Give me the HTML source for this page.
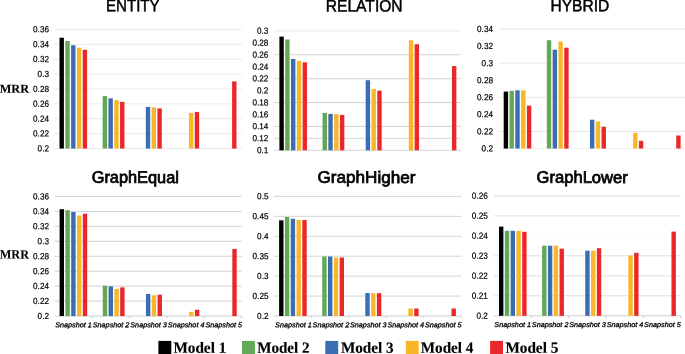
<!DOCTYPE html>
<html><head><meta charset="utf-8"><title>MRR charts</title>
<style>html,body{margin:0;padding:0;background:#fff}svg{display:block}</style></head>
<body>
<svg text-rendering="geometricPrecision" width="685" height="354" viewBox="0 0 685 354">
<rect width="685" height="354" fill="#fff"/>
<line x1="54.60" x2="242.10" y1="29.40" y2="29.40" stroke="#e4e4e4" stroke-width="0.8" stroke-opacity="1"/>
<text transform="translate(49.00,32.35) rotate(0.1) scale(0.93,1)" text-anchor="end" font-size="8.8" font-family="Liberation Sans, Arial, sans-serif" fill="#000" stroke="#000" stroke-width="0.2">0.36</text>
<line x1="54.60" x2="242.10" y1="44.29" y2="44.29" stroke="#e4e4e4" stroke-width="0.8" stroke-opacity="1"/>
<text transform="translate(49.00,47.24) rotate(0.1) scale(0.93,1)" text-anchor="end" font-size="8.8" font-family="Liberation Sans, Arial, sans-serif" fill="#000" stroke="#000" stroke-width="0.2">0.34</text>
<line x1="54.60" x2="242.10" y1="59.19" y2="59.19" stroke="#e4e4e4" stroke-width="0.8" stroke-opacity="1"/>
<text transform="translate(49.00,62.14) rotate(0.1) scale(0.93,1)" text-anchor="end" font-size="8.8" font-family="Liberation Sans, Arial, sans-serif" fill="#000" stroke="#000" stroke-width="0.2">0.32</text>
<line x1="54.60" x2="242.10" y1="74.08" y2="74.08" stroke="#e4e4e4" stroke-width="0.8" stroke-opacity="1"/>
<text transform="translate(49.00,77.03) rotate(0.1) scale(0.93,1)" text-anchor="end" font-size="8.8" font-family="Liberation Sans, Arial, sans-serif" fill="#000" stroke="#000" stroke-width="0.2">0.3</text>
<line x1="54.60" x2="242.10" y1="88.97" y2="88.97" stroke="#e4e4e4" stroke-width="0.8" stroke-opacity="1"/>
<text transform="translate(49.00,91.92) rotate(0.1) scale(0.93,1)" text-anchor="end" font-size="8.8" font-family="Liberation Sans, Arial, sans-serif" fill="#000" stroke="#000" stroke-width="0.2">0.28</text>
<line x1="54.60" x2="242.10" y1="103.87" y2="103.87" stroke="#e4e4e4" stroke-width="0.8" stroke-opacity="1"/>
<text transform="translate(49.00,106.82) rotate(0.1) scale(0.93,1)" text-anchor="end" font-size="8.8" font-family="Liberation Sans, Arial, sans-serif" fill="#000" stroke="#000" stroke-width="0.2">0.26</text>
<line x1="54.60" x2="242.10" y1="118.76" y2="118.76" stroke="#e4e4e4" stroke-width="0.8" stroke-opacity="1"/>
<text transform="translate(49.00,121.71) rotate(0.1) scale(0.93,1)" text-anchor="end" font-size="8.8" font-family="Liberation Sans, Arial, sans-serif" fill="#000" stroke="#000" stroke-width="0.2">0.24</text>
<line x1="54.60" x2="242.10" y1="133.66" y2="133.66" stroke="#e4e4e4" stroke-width="0.8" stroke-opacity="1"/>
<text transform="translate(49.00,136.61) rotate(0.1) scale(0.93,1)" text-anchor="end" font-size="8.8" font-family="Liberation Sans, Arial, sans-serif" fill="#000" stroke="#000" stroke-width="0.2">0.22</text>
<line x1="54.60" x2="242.10" y1="148.55" y2="148.55" stroke="#e4e4e4" stroke-width="0.8" stroke-opacity="1"/>
<text transform="translate(49.00,151.50) rotate(0.1) scale(0.93,1)" text-anchor="end" font-size="8.8" font-family="Liberation Sans, Arial, sans-serif" fill="#000" stroke="#000" stroke-width="0.2">0.2</text>
<rect x="59.50" y="37.70" width="4.4" height="110.85" fill="#000000"/>
<rect x="65.30" y="41.00" width="4.4" height="107.55" fill="#62a855"/>
<rect x="71.10" y="45.20" width="4.4" height="103.35" fill="#3b6db3"/>
<rect x="76.90" y="47.70" width="4.4" height="100.85" fill="#f9b727"/>
<rect x="82.70" y="49.70" width="4.4" height="98.85" fill="#e9282c"/>
<rect x="102.65" y="96.10" width="4.4" height="52.45" fill="#62a855"/>
<rect x="108.45" y="98.30" width="4.4" height="50.25" fill="#3b6db3"/>
<rect x="114.25" y="100.10" width="4.4" height="48.45" fill="#f9b727"/>
<rect x="120.05" y="101.90" width="4.4" height="46.65" fill="#e9282c"/>
<rect x="145.80" y="106.90" width="4.4" height="41.65" fill="#3b6db3"/>
<rect x="151.60" y="107.40" width="4.4" height="41.15" fill="#f9b727"/>
<rect x="157.40" y="108.40" width="4.4" height="40.15" fill="#e9282c"/>
<rect x="188.95" y="112.90" width="4.4" height="35.65" fill="#f9b727"/>
<rect x="194.75" y="111.90" width="4.4" height="36.65" fill="#e9282c"/>
<rect x="232.10" y="81.40" width="4.4" height="67.15" fill="#e9282c"/>
<line x1="274.10" x2="460.80" y1="30.90" y2="30.90" stroke="#c6c6c6" stroke-width="0.8" stroke-opacity="0.55"/>
<text transform="translate(268.40,33.85) rotate(0.1) scale(0.93,1)" text-anchor="end" font-size="8.8" font-family="Liberation Sans, Arial, sans-serif" fill="#000" stroke="#000" stroke-width="0.2">0.3</text>
<text transform="translate(268.40,45.79) rotate(0.1) scale(0.93,1)" text-anchor="end" font-size="8.8" font-family="Liberation Sans, Arial, sans-serif" fill="#000" stroke="#000" stroke-width="0.2">0.28</text>
<line x1="274.10" x2="460.80" y1="54.78" y2="54.78" stroke="#c6c6c6" stroke-width="0.8" stroke-opacity="0.9"/>
<text transform="translate(268.40,57.73) rotate(0.1) scale(0.93,1)" text-anchor="end" font-size="8.8" font-family="Liberation Sans, Arial, sans-serif" fill="#000" stroke="#000" stroke-width="0.2">0.26</text>
<text transform="translate(268.40,69.67) rotate(0.1) scale(0.93,1)" text-anchor="end" font-size="8.8" font-family="Liberation Sans, Arial, sans-serif" fill="#000" stroke="#000" stroke-width="0.2">0.24</text>
<line x1="274.10" x2="460.80" y1="78.66" y2="78.66" stroke="#c6c6c6" stroke-width="0.8" stroke-opacity="0.9"/>
<text transform="translate(268.40,81.61) rotate(0.1) scale(0.93,1)" text-anchor="end" font-size="8.8" font-family="Liberation Sans, Arial, sans-serif" fill="#000" stroke="#000" stroke-width="0.2">0.22</text>
<text transform="translate(268.40,93.55) rotate(0.1) scale(0.93,1)" text-anchor="end" font-size="8.8" font-family="Liberation Sans, Arial, sans-serif" fill="#000" stroke="#000" stroke-width="0.2">0.2</text>
<line x1="274.10" x2="460.80" y1="102.54" y2="102.54" stroke="#c6c6c6" stroke-width="0.8" stroke-opacity="1.0"/>
<text transform="translate(268.40,105.49) rotate(0.1) scale(0.93,1)" text-anchor="end" font-size="8.8" font-family="Liberation Sans, Arial, sans-serif" fill="#000" stroke="#000" stroke-width="0.2">0.18</text>
<text transform="translate(268.40,117.43) rotate(0.1) scale(0.93,1)" text-anchor="end" font-size="8.8" font-family="Liberation Sans, Arial, sans-serif" fill="#000" stroke="#000" stroke-width="0.2">0.16</text>
<line x1="274.10" x2="460.80" y1="126.42" y2="126.42" stroke="#c6c6c6" stroke-width="0.8" stroke-opacity="1"/>
<text transform="translate(268.40,129.37) rotate(0.1) scale(0.93,1)" text-anchor="end" font-size="8.8" font-family="Liberation Sans, Arial, sans-serif" fill="#000" stroke="#000" stroke-width="0.2">0.14</text>
<line x1="274.10" x2="460.80" y1="138.36" y2="138.36" stroke="#c6c6c6" stroke-width="0.8" stroke-opacity="0.9"/>
<text transform="translate(268.40,141.31) rotate(0.1) scale(0.93,1)" text-anchor="end" font-size="8.8" font-family="Liberation Sans, Arial, sans-serif" fill="#000" stroke="#000" stroke-width="0.2">0.12</text>
<line x1="274.10" x2="460.80" y1="150.30" y2="150.30" stroke="#c6c6c6" stroke-width="0.8" stroke-opacity="0.9"/>
<text transform="translate(268.40,153.25) rotate(0.1) scale(0.93,1)" text-anchor="end" font-size="8.8" font-family="Liberation Sans, Arial, sans-serif" fill="#000" stroke="#000" stroke-width="0.2">0.1</text>
<rect x="279.40" y="36.60" width="4.4" height="113.70" fill="#000000"/>
<rect x="285.20" y="39.50" width="4.4" height="110.80" fill="#62a855"/>
<rect x="291.00" y="58.90" width="4.4" height="91.40" fill="#3b6db3"/>
<rect x="296.80" y="60.80" width="4.4" height="89.50" fill="#f9b727"/>
<rect x="302.60" y="62.30" width="4.4" height="88.00" fill="#e9282c"/>
<rect x="322.54" y="112.90" width="4.4" height="37.40" fill="#62a855"/>
<rect x="328.34" y="113.90" width="4.4" height="36.40" fill="#3b6db3"/>
<rect x="334.14" y="114.20" width="4.4" height="36.10" fill="#f9b727"/>
<rect x="339.94" y="114.90" width="4.4" height="35.40" fill="#e9282c"/>
<rect x="365.68" y="80.20" width="4.4" height="70.10" fill="#3b6db3"/>
<rect x="371.48" y="89.00" width="4.4" height="61.30" fill="#f9b727"/>
<rect x="377.28" y="90.60" width="4.4" height="59.70" fill="#e9282c"/>
<rect x="408.82" y="40.20" width="4.4" height="110.10" fill="#f9b727"/>
<rect x="414.62" y="44.20" width="4.4" height="106.10" fill="#e9282c"/>
<rect x="451.96" y="66.10" width="4.4" height="84.20" fill="#e9282c"/>
<line x1="498.90" x2="686.00" y1="29.10" y2="29.10" stroke="#e2e2e2" stroke-width="0.8" stroke-opacity="1"/>
<text transform="translate(493.00,32.05) rotate(0.1) scale(0.93,1)" text-anchor="end" font-size="8.8" font-family="Liberation Sans, Arial, sans-serif" fill="#000" stroke="#000" stroke-width="0.2">0.34</text>
<text transform="translate(493.00,49.11) rotate(0.1) scale(0.93,1)" text-anchor="end" font-size="8.8" font-family="Liberation Sans, Arial, sans-serif" fill="#000" stroke="#000" stroke-width="0.2">0.32</text>
<line x1="498.90" x2="686.00" y1="63.23" y2="63.23" stroke="#e2e2e2" stroke-width="0.8" stroke-opacity="1"/>
<text transform="translate(493.00,66.18) rotate(0.1) scale(0.93,1)" text-anchor="end" font-size="8.8" font-family="Liberation Sans, Arial, sans-serif" fill="#000" stroke="#000" stroke-width="0.2">0.3</text>
<text transform="translate(493.00,83.24) rotate(0.1) scale(0.93,1)" text-anchor="end" font-size="8.8" font-family="Liberation Sans, Arial, sans-serif" fill="#000" stroke="#000" stroke-width="0.2">0.28</text>
<line x1="498.90" x2="686.00" y1="97.36" y2="97.36" stroke="#e2e2e2" stroke-width="0.8" stroke-opacity="1"/>
<text transform="translate(493.00,100.31) rotate(0.1) scale(0.93,1)" text-anchor="end" font-size="8.8" font-family="Liberation Sans, Arial, sans-serif" fill="#000" stroke="#000" stroke-width="0.2">0.26</text>
<text transform="translate(493.00,117.37) rotate(0.1) scale(0.93,1)" text-anchor="end" font-size="8.8" font-family="Liberation Sans, Arial, sans-serif" fill="#000" stroke="#000" stroke-width="0.2">0.24</text>
<line x1="498.90" x2="686.00" y1="131.49" y2="131.49" stroke="#e2e2e2" stroke-width="0.8" stroke-opacity="1"/>
<text transform="translate(493.00,134.44) rotate(0.1) scale(0.93,1)" text-anchor="end" font-size="8.8" font-family="Liberation Sans, Arial, sans-serif" fill="#000" stroke="#000" stroke-width="0.2">0.22</text>
<line x1="498.90" x2="686.00" y1="148.55" y2="148.55" stroke="#e2e2e2" stroke-width="0.8" stroke-opacity="0.6"/>
<text transform="translate(493.00,151.50) rotate(0.1) scale(0.93,1)" text-anchor="end" font-size="8.8" font-family="Liberation Sans, Arial, sans-serif" fill="#000" stroke="#000" stroke-width="0.2">0.2</text>
<rect x="503.70" y="91.60" width="4.4" height="56.95" fill="#000000"/>
<rect x="509.50" y="90.80" width="4.4" height="57.75" fill="#62a855"/>
<rect x="515.30" y="90.30" width="4.4" height="58.25" fill="#3b6db3"/>
<rect x="521.10" y="90.30" width="4.4" height="58.25" fill="#f9b727"/>
<rect x="526.90" y="105.60" width="4.4" height="42.95" fill="#e9282c"/>
<rect x="546.83" y="40.20" width="4.4" height="108.35" fill="#62a855"/>
<rect x="552.63" y="49.70" width="4.4" height="98.85" fill="#3b6db3"/>
<rect x="558.43" y="41.50" width="4.4" height="107.05" fill="#f9b727"/>
<rect x="564.23" y="47.70" width="4.4" height="100.85" fill="#e9282c"/>
<rect x="589.96" y="119.70" width="4.4" height="28.85" fill="#3b6db3"/>
<rect x="595.76" y="121.50" width="4.4" height="27.05" fill="#f9b727"/>
<rect x="601.56" y="126.70" width="4.4" height="21.85" fill="#e9282c"/>
<rect x="633.09" y="132.80" width="4.4" height="15.75" fill="#f9b727"/>
<rect x="638.89" y="140.80" width="4.4" height="7.75" fill="#e9282c"/>
<rect x="676.22" y="135.50" width="4.4" height="13.05" fill="#e9282c"/>
<line x1="54.80" x2="241.70" y1="196.50" y2="196.50" stroke="#c8c8c8" stroke-width="0.8" stroke-opacity="1"/>
<text transform="translate(49.00,199.45) rotate(0.1) scale(0.93,1)" text-anchor="end" font-size="8.8" font-family="Liberation Sans, Arial, sans-serif" fill="#000" stroke="#000" stroke-width="0.2">0.36</text>
<line x1="54.80" x2="241.70" y1="211.44" y2="211.44" stroke="#c8c8c8" stroke-width="0.8" stroke-opacity="1"/>
<text transform="translate(49.00,214.39) rotate(0.1) scale(0.93,1)" text-anchor="end" font-size="8.8" font-family="Liberation Sans, Arial, sans-serif" fill="#000" stroke="#000" stroke-width="0.2">0.34</text>
<line x1="54.80" x2="241.70" y1="226.39" y2="226.39" stroke="#c8c8c8" stroke-width="0.8" stroke-opacity="1"/>
<text transform="translate(49.00,229.34) rotate(0.1) scale(0.93,1)" text-anchor="end" font-size="8.8" font-family="Liberation Sans, Arial, sans-serif" fill="#000" stroke="#000" stroke-width="0.2">0.32</text>
<line x1="54.80" x2="241.70" y1="241.33" y2="241.33" stroke="#c8c8c8" stroke-width="0.8" stroke-opacity="1"/>
<text transform="translate(49.00,244.28) rotate(0.1) scale(0.93,1)" text-anchor="end" font-size="8.8" font-family="Liberation Sans, Arial, sans-serif" fill="#000" stroke="#000" stroke-width="0.2">0.3</text>
<line x1="54.80" x2="241.70" y1="256.27" y2="256.27" stroke="#c8c8c8" stroke-width="0.8" stroke-opacity="1"/>
<text transform="translate(49.00,259.22) rotate(0.1) scale(0.93,1)" text-anchor="end" font-size="8.8" font-family="Liberation Sans, Arial, sans-serif" fill="#000" stroke="#000" stroke-width="0.2">0.28</text>
<line x1="54.80" x2="241.70" y1="271.22" y2="271.22" stroke="#c8c8c8" stroke-width="0.8" stroke-opacity="1"/>
<text transform="translate(49.00,274.17) rotate(0.1) scale(0.93,1)" text-anchor="end" font-size="8.8" font-family="Liberation Sans, Arial, sans-serif" fill="#000" stroke="#000" stroke-width="0.2">0.26</text>
<line x1="54.80" x2="241.70" y1="286.16" y2="286.16" stroke="#c8c8c8" stroke-width="0.8" stroke-opacity="1"/>
<text transform="translate(49.00,289.11) rotate(0.1) scale(0.93,1)" text-anchor="end" font-size="8.8" font-family="Liberation Sans, Arial, sans-serif" fill="#000" stroke="#000" stroke-width="0.2">0.24</text>
<line x1="54.80" x2="241.70" y1="301.11" y2="301.11" stroke="#c8c8c8" stroke-width="0.8" stroke-opacity="1"/>
<text transform="translate(49.00,304.06) rotate(0.1) scale(0.93,1)" text-anchor="end" font-size="8.8" font-family="Liberation Sans, Arial, sans-serif" fill="#000" stroke="#000" stroke-width="0.2">0.22</text>
<line x1="54.80" x2="241.70" y1="316.05" y2="316.05" stroke="#c0c0c0" stroke-width="0.8" stroke-opacity="1"/>
<text transform="translate(49.00,319.00) rotate(0.1) scale(0.93,1)" text-anchor="end" font-size="8.8" font-family="Liberation Sans, Arial, sans-serif" fill="#000" stroke="#000" stroke-width="0.2">0.2</text>
<line x1="92.18" x2="92.18" y1="316.05" y2="318.25" stroke="#c0c0c0" stroke-width="0.8"/>
<line x1="129.56" x2="129.56" y1="316.05" y2="318.25" stroke="#c0c0c0" stroke-width="0.8"/>
<line x1="166.94" x2="166.94" y1="316.05" y2="318.25" stroke="#c0c0c0" stroke-width="0.8"/>
<line x1="204.32" x2="204.32" y1="316.05" y2="318.25" stroke="#c0c0c0" stroke-width="0.8"/>
<line x1="241.70" x2="241.70" y1="316.05" y2="318.25" stroke="#c0c0c0" stroke-width="0.8"/>
<rect x="59.60" y="209.20" width="4.4" height="106.85" fill="#000000"/>
<rect x="65.40" y="210.20" width="4.4" height="105.85" fill="#62a855"/>
<rect x="71.20" y="212.00" width="4.4" height="104.05" fill="#3b6db3"/>
<rect x="77.00" y="215.50" width="4.4" height="100.55" fill="#f9b727"/>
<rect x="82.80" y="213.70" width="4.4" height="102.35" fill="#e9282c"/>
<rect x="102.78" y="285.70" width="4.4" height="30.35" fill="#62a855"/>
<rect x="108.58" y="286.40" width="4.4" height="29.65" fill="#3b6db3"/>
<rect x="114.38" y="288.90" width="4.4" height="27.15" fill="#f9b727"/>
<rect x="120.18" y="287.40" width="4.4" height="28.65" fill="#e9282c"/>
<rect x="145.96" y="294.00" width="4.4" height="22.05" fill="#3b6db3"/>
<rect x="151.76" y="295.20" width="4.4" height="20.85" fill="#f9b727"/>
<rect x="157.56" y="294.70" width="4.4" height="21.35" fill="#e9282c"/>
<rect x="189.14" y="311.80" width="4.4" height="4.25" fill="#f9b727"/>
<rect x="194.94" y="309.80" width="4.4" height="6.25" fill="#e9282c"/>
<rect x="232.32" y="248.90" width="4.4" height="67.15" fill="#e9282c"/>
<text transform="translate(73.49,327.25) rotate(0.1)" text-anchor="middle" font-size="7" font-style="italic" font-family="Liberation Sans, Arial, sans-serif" fill="#000" stroke="#000" stroke-width="0.28" textLength="36.6" lengthAdjust="spacingAndGlyphs">Snapshot 1</text>
<text transform="translate(111.04,327.25) rotate(0.1)" text-anchor="middle" font-size="7" font-style="italic" font-family="Liberation Sans, Arial, sans-serif" fill="#000" stroke="#000" stroke-width="0.28" textLength="36.6" lengthAdjust="spacingAndGlyphs">Snapshot 2</text>
<text transform="translate(148.59,327.25) rotate(0.1)" text-anchor="middle" font-size="7" font-style="italic" font-family="Liberation Sans, Arial, sans-serif" fill="#000" stroke="#000" stroke-width="0.28" textLength="36.6" lengthAdjust="spacingAndGlyphs">Snapshot 3</text>
<text transform="translate(186.14,327.25) rotate(0.1)" text-anchor="middle" font-size="7" font-style="italic" font-family="Liberation Sans, Arial, sans-serif" fill="#000" stroke="#000" stroke-width="0.28" textLength="36.6" lengthAdjust="spacingAndGlyphs">Snapshot 4</text>
<text transform="translate(223.69,327.25) rotate(0.1)" text-anchor="middle" font-size="7" font-style="italic" font-family="Liberation Sans, Arial, sans-serif" fill="#000" stroke="#000" stroke-width="0.28" textLength="36.6" lengthAdjust="spacingAndGlyphs">Snapshot 5</text>
<line x1="274.10" x2="461.30" y1="196.40" y2="196.40" stroke="#c8c8c8" stroke-width="0.8" stroke-opacity="1"/>
<text transform="translate(268.50,199.35) rotate(0.1) scale(0.93,1)" text-anchor="end" font-size="8.8" font-family="Liberation Sans, Arial, sans-serif" fill="#000" stroke="#000" stroke-width="0.2">0.5</text>
<line x1="274.10" x2="461.30" y1="216.33" y2="216.33" stroke="#c8c8c8" stroke-width="0.8" stroke-opacity="1"/>
<text transform="translate(268.50,219.28) rotate(0.1) scale(0.93,1)" text-anchor="end" font-size="8.8" font-family="Liberation Sans, Arial, sans-serif" fill="#000" stroke="#000" stroke-width="0.2">0.45</text>
<line x1="274.10" x2="461.30" y1="236.27" y2="236.27" stroke="#c8c8c8" stroke-width="0.8" stroke-opacity="1"/>
<text transform="translate(268.50,239.22) rotate(0.1) scale(0.93,1)" text-anchor="end" font-size="8.8" font-family="Liberation Sans, Arial, sans-serif" fill="#000" stroke="#000" stroke-width="0.2">0.4</text>
<line x1="274.10" x2="461.30" y1="256.20" y2="256.20" stroke="#c8c8c8" stroke-width="0.8" stroke-opacity="1"/>
<text transform="translate(268.50,259.15) rotate(0.1) scale(0.93,1)" text-anchor="end" font-size="8.8" font-family="Liberation Sans, Arial, sans-serif" fill="#000" stroke="#000" stroke-width="0.2">0.35</text>
<line x1="274.10" x2="461.30" y1="276.13" y2="276.13" stroke="#c8c8c8" stroke-width="0.8" stroke-opacity="1"/>
<text transform="translate(268.50,279.08) rotate(0.1) scale(0.93,1)" text-anchor="end" font-size="8.8" font-family="Liberation Sans, Arial, sans-serif" fill="#000" stroke="#000" stroke-width="0.2">0.3</text>
<line x1="274.10" x2="461.30" y1="296.07" y2="296.07" stroke="#c8c8c8" stroke-width="0.8" stroke-opacity="1"/>
<text transform="translate(268.50,299.02) rotate(0.1) scale(0.93,1)" text-anchor="end" font-size="8.8" font-family="Liberation Sans, Arial, sans-serif" fill="#000" stroke="#000" stroke-width="0.2">0.25</text>
<line x1="274.10" x2="461.30" y1="316.00" y2="316.00" stroke="#c0c0c0" stroke-width="0.8" stroke-opacity="1"/>
<text transform="translate(268.50,318.95) rotate(0.1) scale(0.93,1)" text-anchor="end" font-size="8.8" font-family="Liberation Sans, Arial, sans-serif" fill="#000" stroke="#000" stroke-width="0.2">0.2</text>
<line x1="311.54" x2="311.54" y1="316.00" y2="318.20" stroke="#c0c0c0" stroke-width="0.8"/>
<line x1="348.98" x2="348.98" y1="316.00" y2="318.20" stroke="#c0c0c0" stroke-width="0.8"/>
<line x1="386.42" x2="386.42" y1="316.00" y2="318.20" stroke="#c0c0c0" stroke-width="0.8"/>
<line x1="423.86" x2="423.86" y1="316.00" y2="318.20" stroke="#c0c0c0" stroke-width="0.8"/>
<line x1="461.30" x2="461.30" y1="316.00" y2="318.20" stroke="#c0c0c0" stroke-width="0.8"/>
<rect x="279.10" y="220.30" width="4.4" height="95.70" fill="#000000"/>
<rect x="284.90" y="217.00" width="4.4" height="99.00" fill="#62a855"/>
<rect x="290.70" y="218.80" width="4.4" height="97.20" fill="#3b6db3"/>
<rect x="296.50" y="220.00" width="4.4" height="96.00" fill="#f9b727"/>
<rect x="302.30" y="220.00" width="4.4" height="96.00" fill="#e9282c"/>
<rect x="322.20" y="256.50" width="4.4" height="59.50" fill="#62a855"/>
<rect x="328.00" y="256.50" width="4.4" height="59.50" fill="#3b6db3"/>
<rect x="333.80" y="257.50" width="4.4" height="58.50" fill="#f9b727"/>
<rect x="339.60" y="257.50" width="4.4" height="58.50" fill="#e9282c"/>
<rect x="365.30" y="293.00" width="4.4" height="23.00" fill="#3b6db3"/>
<rect x="371.10" y="293.20" width="4.4" height="22.80" fill="#f9b727"/>
<rect x="376.90" y="293.20" width="4.4" height="22.80" fill="#e9282c"/>
<rect x="408.40" y="308.50" width="4.4" height="7.50" fill="#f9b727"/>
<rect x="414.20" y="308.50" width="4.4" height="7.50" fill="#e9282c"/>
<rect x="451.50" y="308.50" width="4.4" height="7.50" fill="#e9282c"/>
<text transform="translate(293.42,327.20) rotate(0.1)" text-anchor="middle" font-size="7" font-style="italic" font-family="Liberation Sans, Arial, sans-serif" fill="#000" stroke="#000" stroke-width="0.28" textLength="36.6" lengthAdjust="spacingAndGlyphs">Snapshot 1</text>
<text transform="translate(330.86,327.20) rotate(0.1)" text-anchor="middle" font-size="7" font-style="italic" font-family="Liberation Sans, Arial, sans-serif" fill="#000" stroke="#000" stroke-width="0.28" textLength="36.6" lengthAdjust="spacingAndGlyphs">Snapshot 2</text>
<text transform="translate(368.30,327.20) rotate(0.1)" text-anchor="middle" font-size="7" font-style="italic" font-family="Liberation Sans, Arial, sans-serif" fill="#000" stroke="#000" stroke-width="0.28" textLength="36.6" lengthAdjust="spacingAndGlyphs">Snapshot 3</text>
<text transform="translate(405.74,327.20) rotate(0.1)" text-anchor="middle" font-size="7" font-style="italic" font-family="Liberation Sans, Arial, sans-serif" fill="#000" stroke="#000" stroke-width="0.28" textLength="36.6" lengthAdjust="spacingAndGlyphs">Snapshot 4</text>
<text transform="translate(443.18,327.20) rotate(0.1)" text-anchor="middle" font-size="7" font-style="italic" font-family="Liberation Sans, Arial, sans-serif" fill="#000" stroke="#000" stroke-width="0.28" textLength="36.6" lengthAdjust="spacingAndGlyphs">Snapshot 5</text>
<line x1="494.00" x2="680.60" y1="195.90" y2="195.90" stroke="#d6d6d6" stroke-width="0.8" stroke-opacity="1"/>
<text transform="translate(487.80,198.85) rotate(0.1) scale(0.93,1)" text-anchor="end" font-size="8.8" font-family="Liberation Sans, Arial, sans-serif" fill="#000" stroke="#000" stroke-width="0.2">0.26</text>
<line x1="494.00" x2="680.60" y1="215.88" y2="215.88" stroke="#d6d6d6" stroke-width="0.8" stroke-opacity="1"/>
<text transform="translate(487.80,218.83) rotate(0.1) scale(0.93,1)" text-anchor="end" font-size="8.8" font-family="Liberation Sans, Arial, sans-serif" fill="#000" stroke="#000" stroke-width="0.2">0.25</text>
<line x1="494.00" x2="680.60" y1="235.87" y2="235.87" stroke="#d6d6d6" stroke-width="0.8" stroke-opacity="0.15"/>
<text transform="translate(487.80,238.82) rotate(0.1) scale(0.93,1)" text-anchor="end" font-size="8.8" font-family="Liberation Sans, Arial, sans-serif" fill="#000" stroke="#000" stroke-width="0.2">0.24</text>
<line x1="494.00" x2="680.60" y1="255.85" y2="255.85" stroke="#d6d6d6" stroke-width="0.8" stroke-opacity="1"/>
<text transform="translate(487.80,258.80) rotate(0.1) scale(0.93,1)" text-anchor="end" font-size="8.8" font-family="Liberation Sans, Arial, sans-serif" fill="#000" stroke="#000" stroke-width="0.2">0.23</text>
<line x1="494.00" x2="680.60" y1="275.83" y2="275.83" stroke="#d6d6d6" stroke-width="0.8" stroke-opacity="1"/>
<text transform="translate(487.80,278.78) rotate(0.1) scale(0.93,1)" text-anchor="end" font-size="8.8" font-family="Liberation Sans, Arial, sans-serif" fill="#000" stroke="#000" stroke-width="0.2">0.22</text>
<line x1="494.00" x2="680.60" y1="295.82" y2="295.82" stroke="#d6d6d6" stroke-width="0.8" stroke-opacity="1"/>
<text transform="translate(487.80,298.77) rotate(0.1) scale(0.93,1)" text-anchor="end" font-size="8.8" font-family="Liberation Sans, Arial, sans-serif" fill="#000" stroke="#000" stroke-width="0.2">0.21</text>
<line x1="494.00" x2="680.60" y1="315.80" y2="315.80" stroke="#c0c0c0" stroke-width="0.8" stroke-opacity="1"/>
<text transform="translate(487.80,318.75) rotate(0.1) scale(0.93,1)" text-anchor="end" font-size="8.8" font-family="Liberation Sans, Arial, sans-serif" fill="#000" stroke="#000" stroke-width="0.2">0.2</text>
<line x1="531.32" x2="531.32" y1="315.80" y2="318.00" stroke="#c0c0c0" stroke-width="0.8"/>
<line x1="568.64" x2="568.64" y1="315.80" y2="318.00" stroke="#c0c0c0" stroke-width="0.8"/>
<line x1="605.96" x2="605.96" y1="315.80" y2="318.00" stroke="#c0c0c0" stroke-width="0.8"/>
<line x1="643.28" x2="643.28" y1="315.80" y2="318.00" stroke="#c0c0c0" stroke-width="0.8"/>
<line x1="680.60" x2="680.60" y1="315.80" y2="318.00" stroke="#c0c0c0" stroke-width="0.8"/>
<rect x="499.00" y="226.60" width="4.4" height="89.20" fill="#000000"/>
<rect x="504.80" y="230.80" width="4.4" height="85.00" fill="#62a855"/>
<rect x="510.60" y="230.80" width="4.4" height="85.00" fill="#3b6db3"/>
<rect x="516.40" y="230.80" width="4.4" height="85.00" fill="#f9b727"/>
<rect x="522.20" y="231.80" width="4.4" height="84.00" fill="#e9282c"/>
<rect x="542.12" y="245.70" width="4.4" height="70.10" fill="#62a855"/>
<rect x="547.92" y="245.70" width="4.4" height="70.10" fill="#3b6db3"/>
<rect x="553.72" y="245.70" width="4.4" height="70.10" fill="#f9b727"/>
<rect x="559.52" y="248.70" width="4.4" height="67.10" fill="#e9282c"/>
<rect x="585.24" y="250.70" width="4.4" height="65.10" fill="#3b6db3"/>
<rect x="591.04" y="250.70" width="4.4" height="65.10" fill="#f9b727"/>
<rect x="596.84" y="248.20" width="4.4" height="67.60" fill="#e9282c"/>
<rect x="628.36" y="255.50" width="4.4" height="60.30" fill="#f9b727"/>
<rect x="634.16" y="252.80" width="4.4" height="63.00" fill="#e9282c"/>
<rect x="671.48" y="231.60" width="4.4" height="84.20" fill="#e9282c"/>
<text transform="translate(512.66,327.00) rotate(0.1)" text-anchor="middle" font-size="7" font-style="italic" font-family="Liberation Sans, Arial, sans-serif" fill="#000" stroke="#000" stroke-width="0.28" textLength="36.6" lengthAdjust="spacingAndGlyphs">Snapshot 1</text>
<text transform="translate(550.10,327.00) rotate(0.1)" text-anchor="middle" font-size="7" font-style="italic" font-family="Liberation Sans, Arial, sans-serif" fill="#000" stroke="#000" stroke-width="0.28" textLength="36.6" lengthAdjust="spacingAndGlyphs">Snapshot 2</text>
<text transform="translate(587.54,327.00) rotate(0.1)" text-anchor="middle" font-size="7" font-style="italic" font-family="Liberation Sans, Arial, sans-serif" fill="#000" stroke="#000" stroke-width="0.28" textLength="36.6" lengthAdjust="spacingAndGlyphs">Snapshot 3</text>
<text transform="translate(624.98,327.00) rotate(0.1)" text-anchor="middle" font-size="7" font-style="italic" font-family="Liberation Sans, Arial, sans-serif" fill="#000" stroke="#000" stroke-width="0.28" textLength="36.6" lengthAdjust="spacingAndGlyphs">Snapshot 4</text>
<text transform="translate(662.42,327.00) rotate(0.1)" text-anchor="middle" font-size="7" font-style="italic" font-family="Liberation Sans, Arial, sans-serif" fill="#000" stroke="#000" stroke-width="0.28" textLength="36.6" lengthAdjust="spacingAndGlyphs">Snapshot 5</text>
<text transform="translate(106.00,11.30) rotate(0.08)" font-size="16.6" font-family="Liberation Sans, Arial, sans-serif" fill="#000" stroke="#000" stroke-width="0.5" textLength="53.60" lengthAdjust="spacingAndGlyphs">ENTITY</text>
<text transform="translate(325.80,11.45) rotate(0.08)" font-size="16.6" font-family="Liberation Sans, Arial, sans-serif" fill="#000" stroke="#000" stroke-width="0.5" textLength="76.80" lengthAdjust="spacingAndGlyphs">RELATION</text>
<text transform="translate(550.50,11.30) rotate(0.08)" font-size="16.6" font-family="Liberation Sans, Arial, sans-serif" fill="#000" stroke="#000" stroke-width="0.5" textLength="58.70" lengthAdjust="spacingAndGlyphs">HYBRID</text>
<text transform="translate(91.70,182.80) rotate(0.08)" font-size="16.6" font-family="Liberation Sans, Arial, sans-serif" fill="#000" stroke="#000" stroke-width="0.75" textLength="87.20" lengthAdjust="spacingAndGlyphs">GraphEqual</text>
<text transform="translate(317.50,182.80) rotate(0.08)" font-size="16.6" font-family="Liberation Sans, Arial, sans-serif" fill="#000" stroke="#000" stroke-width="0.75" textLength="98.00" lengthAdjust="spacingAndGlyphs">GraphHigher</text>
<text transform="translate(536.60,182.80) rotate(0.08)" font-size="16.6" font-family="Liberation Sans, Arial, sans-serif" fill="#000" stroke="#000" stroke-width="0.75" textLength="91.20" lengthAdjust="spacingAndGlyphs">GraphLower</text>
<text transform="translate(-0.3,92.7) rotate(0.1)" font-size="12.2" font-family="Liberation Serif, Times New Roman, serif" font-weight="bold" fill="#000" stroke="#000" stroke-width="0.1" textLength="29.3" lengthAdjust="spacingAndGlyphs">MRR</text>
<text transform="translate(-0.3,258.6) rotate(0.1)" font-size="12.8" font-family="Liberation Serif, Times New Roman, serif" font-weight="bold" fill="#000" stroke="#000" stroke-width="0.1" textLength="29.3" lengthAdjust="spacingAndGlyphs">MRR</text>
<rect x="158.4" y="340.9" width="12.9" height="14" fill="#000000"/>
<text transform="translate(173.4,352.75) rotate(0.08)" font-size="15.5" font-family="Liberation Serif, Times New Roman, serif" font-weight="bold" fill="#000" stroke="#000" stroke-width="0.15" textLength="52.90" lengthAdjust="spacingAndGlyphs">Model 1</text>
<rect x="242.0" y="340.9" width="12.9" height="14" fill="#62a855"/>
<text transform="translate(257.2,352.75) rotate(0.08)" font-size="15.5" font-family="Liberation Serif, Times New Roman, serif" font-weight="bold" fill="#000" stroke="#000" stroke-width="0.15" textLength="52.30" lengthAdjust="spacingAndGlyphs">Model 2</text>
<rect x="325.3" y="340.9" width="12.9" height="14" fill="#3b6db3"/>
<text transform="translate(340.9,352.75) rotate(0.08)" font-size="15.5" font-family="Liberation Serif, Times New Roman, serif" font-weight="bold" fill="#000" stroke="#000" stroke-width="0.15" textLength="52.70" lengthAdjust="spacingAndGlyphs">Model 3</text>
<rect x="405.8" y="340.9" width="12.9" height="14" fill="#f9b727"/>
<text transform="translate(420.8,352.75) rotate(0.08)" font-size="15.5" font-family="Liberation Serif, Times New Roman, serif" font-weight="bold" fill="#000" stroke="#000" stroke-width="0.15" textLength="52.60" lengthAdjust="spacingAndGlyphs">Model 4</text>
<rect x="490.1" y="340.9" width="12.9" height="14" fill="#e9282c"/>
<text transform="translate(505.4,352.75) rotate(0.08)" font-size="15.5" font-family="Liberation Serif, Times New Roman, serif" font-weight="bold" fill="#000" stroke="#000" stroke-width="0.15" textLength="52.90" lengthAdjust="spacingAndGlyphs">Model 5</text>
</svg>
</body></html>
